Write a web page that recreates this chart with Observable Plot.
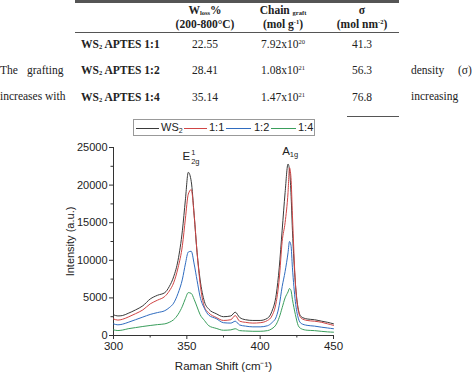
<!DOCTYPE html>
<html>
<head>
<meta charset="utf-8">
<script src="https://cdn.jsdelivr.net/npm/d3@7"></script>
<script src="https://cdn.jsdelivr.net/npm/@observablehq/plot@0.6"></script>
<style>
  html, body { margin: 0; padding: 0; background: #fff; }
  #wrap { position: relative; width: 474px; height: 374px; overflow: hidden; }
  #wrap svg { position: absolute; left: 0; top: 0; }
  .t { position: absolute; font-family: "Liberation Serif", "Times New Roman", serif; font-size: 11.5px; color: #222; white-space: nowrap; line-height: 1; }
  .c { transform: translate(-50%, -50%); }
  .l { transform: translate(0, -50%); }
  .b { font-weight: bold; }
  .sub { font-size: 6.5px; vertical-align: -1px; }
  .sup { font-size: 6.5px; vertical-align: 4px; }
  .hl { position: absolute; background: #555; }
  #legend { position: absolute; left: 133px; top: 119px; width: 180px; height: 15px; border: 1px solid #999; background: #fff;
            font-family: "Liberation Sans", Arial, sans-serif; font-size: 11px; color: #222; }
  #legend .sw { position: absolute; top: 8px; height: 0; border-top: 1.2px solid; }
  #legend .lab { position: absolute; top: 1px; line-height: 13px; }
  #legend .lab sub { font-size: 7px; vertical-align: -2px; line-height: 0; }
</style>
</head>
<body>
<div id="wrap"></div>
<script>
// ---------------- Data ----------------
const ramanShift = [300,303,306,310,315,320,325,330,335,338,341,344,347,349,351,353,355,357,359,362,365,370,375,380,383,386,390,395,400,405,408,411,413,415,417,419,420,421,422,424,426,428,432,437,442,446,450];
const ws2  = [2750,2600,2650,2950,3400,3950,4850,5350,5700,6500,7800,10000,14000,18000,21700,20500,16000,11000,7500,4500,3500,2900,2500,2600,3100,2400,2100,2000,2000,2300,3200,5500,9000,14000,19000,22800,22000,19000,14000,7000,3500,2500,2200,2100,1900,1750,1550];
const r1_1 = [2200,2050,2150,2450,2900,3400,4200,4700,5200,5900,7000,9000,12000,15500,18800,19400,16000,11000,7000,3800,3000,2400,2000,2100,2650,1900,1750,1650,1700,2000,2600,4500,7500,12500,15000,19000,22300,21000,16000,7000,3300,2300,2000,1900,1750,1550,1350];
const r1_2 = [1550,1420,1500,1750,2100,2450,2800,3050,3300,3700,4300,5600,7500,9500,11100,11200,9500,7300,5200,3600,2700,2250,1700,1650,1900,1400,1250,1150,1150,1300,1700,2500,4000,6500,8500,11000,12500,12000,9000,4500,2300,1600,1350,1250,1100,1000,900];
const r1_4 = [750,660,720,900,1050,1200,1330,1450,1550,1750,2100,2800,3900,4900,5700,5600,4800,3800,2800,2000,1300,950,700,750,900,650,600,560,560,650,900,1500,2400,3700,5000,5800,6250,6000,4800,2800,1300,900,700,650,550,480,440];

const seriesNames  = ["WS2", "1:1", "1:2", "1:4"];
const seriesLabels = ["WS<sub>2</sub>", "1:1", "1:2", "1:4"];
const seriesColors = ["#3a3a3a", "#d04545", "#2f6cc0", "#3a9e5c"];

const xMajor = [300, 350, 400, 450];
const xMinor = [325, 375, 425];
const yMajor = [0, 5000, 10000, 15000, 20000, 25000];
const yMinor = [2500, 7500, 12500, 17500, 22500];

// table
const rowLabels = ["1:1", "1:2", "1:4"];
const wloss = ["22.55", "28.41", "35.14"];
const chainMant = ["7.92", "1.08", "1.47"];
const chainExp = ["20", "21", "21"];
const sigma = ["41.3", "56.3", "76.8"];

// ---------------- Chart ----------------
const seriesValues = [ws2, r1_1, r1_2, r1_4];
const rows = [];
seriesNames.forEach((s, i) => ramanShift.forEach((x, j) => rows.push({x, y: seriesValues[i][j], s})));

// peak annotations (at the WS2 maxima of each band)
function peakOf(lo, hi) {
  const idx = d3.range(ramanShift.length).filter(i => ramanShift[i] >= lo && ramanShift[i] <= hi);
  const i = d3.greatest(idx, k => ws2[k]);
  return {x: ramanShift[i], y: ws2[i]};
}
const pE = peakOf(340, 365), pA = peakOf(410, 430);

const axisColor = "#333";
const chart = Plot.plot({
  width: 474, height: 374,
  marginLeft: 113, marginRight: 141, marginTop: 147, marginBottom: 39,
  style: {fontFamily: "Liberation Sans, Arial, sans-serif", fontSize: "11px", color: "#222", background: "transparent", overflow: "visible"},
  x: {domain: [300, 450]},
  y: {domain: [0, 25000]},
  color: {domain: seriesNames, range: seriesColors},
  marks: [
    Plot.axisX({ticks: xMajor, tickSize: 4, tickPadding: 2, tickFormat: d => String(d), fontSize: 11.5, stroke: axisColor,
                label: "Raman Shift (cm⁻¹)", labelAnchor: "center", labelOffset: 34, labelArrow: "none"}),
    Plot.axisX({ticks: xMinor, tickSize: 2.5, tickFormat: () => "", label: null, stroke: axisColor}),
    Plot.axisY({ticks: yMajor, tickSize: 4, tickPadding: 2, tickFormat: d => String(d), stroke: axisColor,
                label: "Intensity (a.u.)", labelAnchor: "center", labelOffset: 47, labelArrow: "none"}),
    Plot.axisY({ticks: yMinor, tickSize: 2.5, tickFormat: () => "", label: null, stroke: axisColor}),
    Plot.ruleX([300], {stroke: axisColor}),
    Plot.ruleY([0], {stroke: axisColor}),
    Plot.line(rows, {x: "x", y: "y", z: "s", stroke: "s", strokeWidth: 1, curve: "monotone-x"}),
    // E2g^1 label
    Plot.text([pE], {x: "x", y: "y", text: () => "E", dy: -16, dx: -2, fontSize: 11.5}),
    Plot.text([pE], {x: "x", y: "y", text: () => "1", dy: -20, dx: 5, fontSize: 7.5}),
    Plot.text([pE], {x: "x", y: "y", text: () => "2g", dy: -11, dx: 7, fontSize: 7.5}),
    // A1g label
    Plot.text([pA], {x: "x", y: "y", text: () => "A", dy: -13, dx: -2, fontSize: 11.5}),
    Plot.text([pA], {x: "x", y: "y", text: () => "1g", dy: -9, dx: 6, fontSize: 7.5})
  ]
});
const wrap = document.getElementById("wrap");
wrap.appendChild(chart);

// ---------------- Table & surrounding text ----------------
function put(html, x, y, cls) {
  const d = document.createElement("div");
  d.className = "t " + cls;
  d.style.left = x + "px"; d.style.top = y + "px";
  d.innerHTML = html;
  wrap.appendChild(d);
}
function hline(x, y, w, h) {
  const d = document.createElement("div");
  d.className = "hl";
  Object.assign(d.style, {left: x + "px", top: y + "px", width: w + "px", height: h + "px"});
  wrap.appendChild(d);
}
hline(75, 0, 324, 3);
hline(75, 32, 324, 1);
hline(347, 116, 52, 1.2);

const colX = [205, 283, 362];
put('W<span class="sub">loss</span>%', colX[0], 11, "c b");
put('(200-800°C)', colX[0], 25, "c b");
put('Chain <span class="sub">graft</span>', colX[1], 11, "c b");
put('(mol g<span class="sup">-1</span>)', colX[1], 25, "c b");
put('σ', colX[2], 11, "c b");
put('(mol nm<span class="sup">-2</span>)', colX[2], 25, "c b");

const rowY = [45, 71, 98];
rowLabels.forEach((r, i) => {
  put('WS<span class="sub">2</span> APTES ' + r, 81, rowY[i], "l b");
  put(wloss[i], colX[0], rowY[i], "c");
  put(chainMant[i] + 'x10<span class="sup">' + chainExp[i] + '</span>', colX[1], rowY[i], "c");
  put(sigma[i], colX[2], rowY[i], "c");
});

put("The", 0, 71, "l");
put("grafting", 27, 71, "l");
put("increases with", 0, 97, "l");
put("density", 411, 71, "l");
put("(σ)", 458, 71, "l");
put("increasing", 411, 97, "l");

// ---------------- Legend ----------------
const lg = document.createElement("div");
lg.id = "legend";
const swX = [2, 50, 92, 137], swW = [23, 23, 25, 25];
const labX = [27, 75, 120, 164];
seriesNames.forEach((s, i) => {
  const sw = document.createElement("span");
  sw.className = "sw"; sw.style.borderTopColor = seriesColors[i];
  sw.style.left = swX[i] + "px"; sw.style.width = swW[i] + "px";
  const lb = document.createElement("span");
  lb.className = "lab"; lb.innerHTML = seriesLabels[i];
  lb.style.left = labX[i] + "px";
  lg.appendChild(sw); lg.appendChild(lb);
});
wrap.appendChild(lg);
</script>
</body>
</html>
